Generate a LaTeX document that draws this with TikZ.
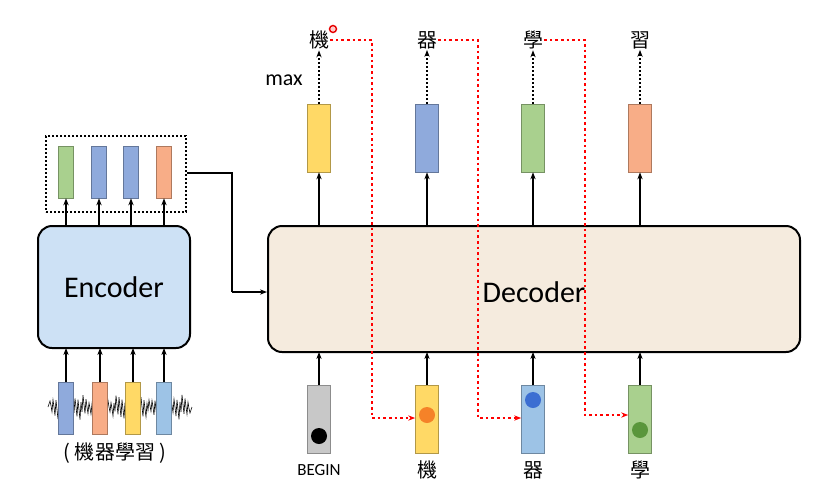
\documentclass[tikz,border=0pt]{standalone}
\usepackage{fontspec}
\setmainfont{Carlito}
\newfontfamily\cjk{Noto Sans CJK TC}
\usetikzlibrary{arrows.meta}
\definecolor{vgreen}{RGB}{169,208,142}
\definecolor{vblue}{RGB}{143,170,220}
\definecolor{vlblue}{RGB}{157,195,230}
\definecolor{vorange}{RGB}{248,173,135}
\definecolor{vyellow}{RGB}{255,217,102}
\definecolor{vgray}{RGB}{200,200,200}
\definecolor{encfill}{RGB}{205,225,245}
\definecolor{decfill}{RGB}{245,235,222}
\definecolor{dorange}{RGB}{245,130,40}
\definecolor{dblue}{RGB}{60,110,210}
\definecolor{dgreen}{RGB}{90,150,60}
\tikzset{
  vec/.style={draw=#1!70!black, fill=#1, line width=0.6pt, inner sep=0pt, minimum width=15pt, minimum height=52pt},
  dvec/.style={draw=#1!70!black, fill=#1, line width=0.6pt, inner sep=0pt, minimum width=23pt, minimum height=68pt},
  big/.style={draw, line width=2pt, rounded corners=14pt},
  arr/.style={-{Stealth[length=7pt]}, line width=1.6pt},
  dotarr/.style={-{Stealth[length=7pt]}, line width=1.8pt, dash pattern=on 2pt off 2pt},
  red/.style={-{Stealth[length=7pt]}, line width=2.6pt, dash pattern=on 2.6pt off 3pt, draw=red, color=red},
  ch/.style={font=\cjk\fontsize{20}{20}\selectfont, inner sep=1pt},
  lbl/.style={font=\fontsize{17}{17}\selectfont, inner sep=1pt}
}
\begin{document}
\begin{tikzpicture}[x=1pt,y=-1pt]
\useasboundingbox (0,0) rectangle (821,483);
% encoder
\node[big, fill=encfill, minimum width=152pt, minimum height=122pt] (enc) at (114,287) {};
\node[font=\fontsize{30}{30}\selectfont] at (enc) {Encoder};
\node[draw, line width=2pt, dash pattern=on 2pt off 2pt, minimum width=140pt, minimum height=76pt] (box) at (116,174) {};
\foreach \x/\c [count=\i] in {66/vgreen,99/vblue,131/vblue,164/vorange}{
  \node[vec=\c] (e\i) at (\x,172) {};
  \draw[arr] (\x,226) -- (e\i.south);
}
% waveform
\draw[line width=0.6pt] (48,407)
  \foreach \k in {0,...,140}{ -- ({50+\k}, {407+(mod(\k*37,11)-5)*(1.2+1.3*abs(sin(\k*9)))}) } -- (192,407);
\foreach \x/\c [count=\i] in {66/vblue,100/vorange,133/vyellow,164/vlblue}{
  \node[vec=\c] (a\i) at (\x,408) {};
  \draw[arr] (a\i.north) -- (\x,348);
}
\node[ch] (inp) at (115,453) {( 機器學習 )};
% decoder
\node[big, fill=decfill, minimum width=532pt, minimum height=126pt] (dec) at (534,289) {};
\node[font=\fontsize{30}{30}\selectfont] at (534,292) {Decoder};
\coordinate (k1) at (232,173);
\coordinate (k2) at (232,292);
\draw[line width=1.6pt] (box.east |- 0,173) -- (k1) -- (k2);
\draw[arr] (k2) -- (dec.west |- k2);
% outputs
\foreach \x/\c/\t [count=\i] in {319/vyellow/機,427/vblue/器,533/vgreen/學,640/vorange/習}{
  \node[dvec=\c] (o\i) at (\x,138) {};
  \draw[arr] (\x,226) -- (o\i.south);
  \node[ch] (t\i) at (\x,40) {\t};
  \draw[dotarr] (o\i.north) -- (t\i.south);
}
\node[lbl, font=\fontsize{22}{22}\selectfont] (max) at (284,80) {max};
% decoder inputs
\foreach \x/\c/\d [count=\i] in {319/vgray/black,427/vyellow/dorange,533/vlblue/dblue,640/vgreen/dgreen}{
  \node[dvec=\c] (d\i) at (\x,419) {};
  \draw[arr] (d\i.north) -- (\x,352);
}
\fill[black] (319,436) circle (8pt);
\fill[dorange] (427,415) circle (8pt);
\fill[dblue] (533,400) circle (8pt);
\fill[dgreen] (640,430) circle (8pt);
\node[lbl] (b1) at (319,470) {BEGIN};
\node[ch] (b2) at (427,470) {機};
\node[ch] (b3) at (533,470) {器};
\node[ch] (b4) at (640,470) {學};
% red feedback
\foreach \i/\j/\xm/\y in {1/2/372/418,2/3/478/418,3/4/585/415}{
  \coordinate (r\i a) at (\xm,40);
  \coordinate (r\i b) at (\xm,\y);
  \draw[red] (t\i.east) -- (r\i a) -- (r\i b) -- (d\j.west |- r\i b);
}
\draw[red!90!black, line width=1.4pt, fill=red!20] (333,29) circle (3.5pt);
\end{tikzpicture}
\end{document}
